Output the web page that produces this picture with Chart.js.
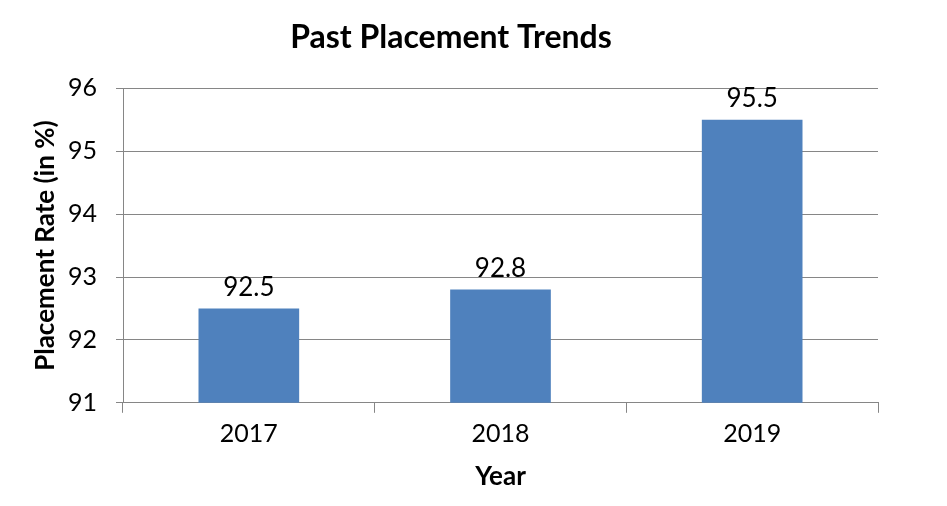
<!DOCTYPE html>
<html>
<head>
<meta charset="utf-8">
<script src="https://cdn.jsdelivr.net/npm/chart.js@4.4.1/dist/chart.umd.min.js"></script>
<style>
  html, body { margin: 0; padding: 0; background: #fff; }
  #wrap { width: 947px; height: 506px; }
</style>
</head>
<body>
<div id="wrap"><canvas id="placementChart"></canvas></div>
<script>
const years = ['2017', '2018', '2019']
const placementRate = [92.5, 92.8, 95.5]
const yTicks = [91, 92, 93, 94, 95, 96]

const gridGray = '#868686'
const fontFamily = 'Lato, "Open Sans", sans-serif'

// labels above each bar
const barValues = {
  id: 'barValues',
  afterDatasetsDraw(chart) {
    const ctx = chart.ctx
    const meta = chart.getDatasetMeta(0)
    ctx.save()
    ctx.font = '26px ' + fontFamily
    ctx.fillStyle = '#000'
    ctx.textAlign = 'center'
    ctx.textBaseline = 'bottom'
    meta.data.forEach((bar, i) => {
      ctx.fillText(placementRate[i].toFixed(1), bar.x, bar.y - 8)
    })
    ctx.restore()
  }
}

const ctx = document.getElementById('placementChart').getContext('2d')
const myChart = new Chart(ctx, {
  type: 'bar',
  data: {
    labels: years,
    datasets: [{
      data: placementRate,
      backgroundColor: '#4F81BD',
      barPercentage: 0.4,
      categoryPercentage: 1
    }]
  },
  options: {
    responsive: true,
    maintainAspectRatio: false,
    animation: false,
    layout: { padding: { left: 24, right: 69, bottom: 10 } },
    plugins: {
      legend: { display: false },
      tooltip: { enabled: false },
      title: {
        display: true,
        text: 'Past Placement Trends',
        color: '#000',
        font: { family: fontFamily, size: 32, weight: 'bold' },
        padding: { top: 18, bottom: 32 }
      }
    },
    scales: {
      x: {
        grid: { drawOnChartArea: false, drawTicks: true, tickLength: 10, color: gridGray, offset: true },
        border: { color: gridGray },
        ticks: { color: '#000', font: { family: fontFamily, size: 25 }, padding: 6 },
        title: { display: true, text: 'Year', color: '#000', font: { family: fontFamily, size: 26, weight: 'bold' }, padding: { top: 6 } }
      },
      y: {
        min: 91,
        max: 96,
        afterBuildTicks(scale) { scale.ticks = yTicks.map(v => ({ value: v })) },
        afterFit(scale) { scale.width = 99 },
        grid: { color: gridGray, tickLength: 7 },
        border: { color: gridGray },
        ticks: { color: '#000', font: { family: fontFamily, size: 25 }, padding: 19 },
        title: { display: true, text: 'Placement Rate (in %)', color: '#000', font: { family: fontFamily, size: 26, weight: 'bold' }, padding: { top: 6, bottom: 4 } }
      }
    }
  },
  plugins: [barValues]
})
</script>
</body>
</html>
